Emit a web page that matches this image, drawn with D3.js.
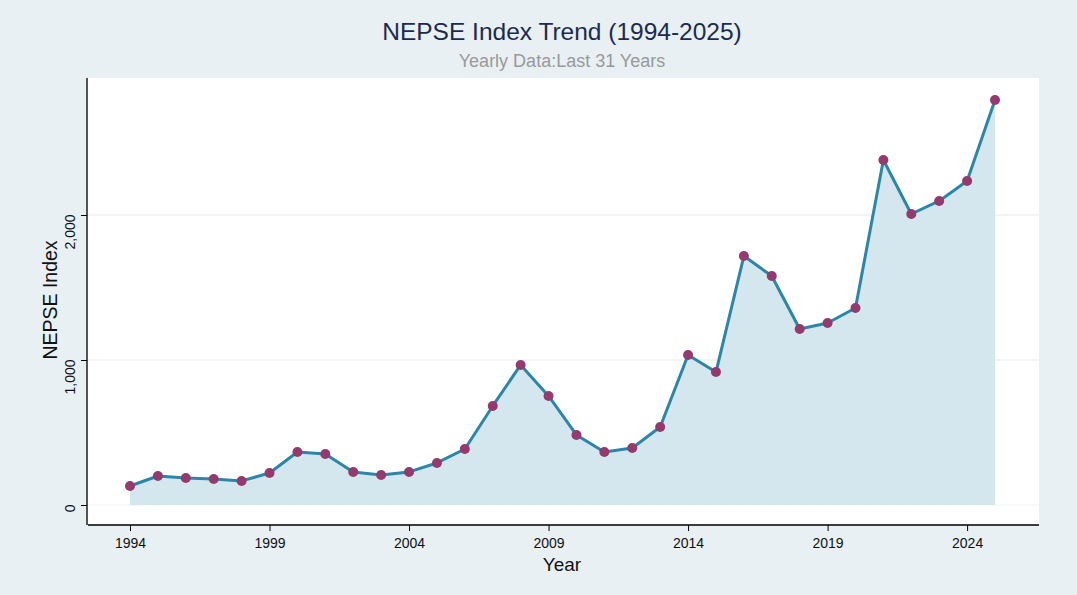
<!DOCTYPE html>
<html><head><meta charset="utf-8">
<script src="https://cdn.jsdelivr.net/npm/d3@7"></script>
<style>body{margin:0;background:#e8f0f4;} svg{display:block;font-family:"Liberation Sans",Arial,sans-serif;}</style>
</head><body>
<svg id="c" width="1077" height="595"></svg>
<script>
const years = [1994,1995,1996,1997,1998,1999,2000,2001,2002,2003,2004,2005,2006,2007,2008,2009,2010,2011,2012,2013,2014,2015,2016,2017,2018,2019,2020,2021,2022,2023,2024,2025];
const nepse = [131,200,186,179,166,221,366,352,228,207,228,290,386,683,966,752,483,366,393,538,1034,917,1717,1579,1214,1255,1359,2379,2007,2097,2234,2793];
const xTicks = [1994,1999,2004,2009,2014,2019,2024];
const yTicks = [0,1000,2000];
const titleText = "NEPSE Index Trend (1994-2025)";
const subtitleText = "Yearly Data:Last 31 Years";

const svg = d3.select("#c");
const W=1077,H=595;
const plot = {l:88, r:1039, t:78, b:524};
svg.append("rect").attr("width",W).attr("height",H).attr("fill","#e8f0f4");
svg.append("rect").attr("x",plot.l).attr("y",plot.t).attr("width",plot.r-plot.l).attr("height",plot.b-plot.t).attr("fill","#ffffff");

const x = d3.scaleLinear().domain([1994,2025]).range([130,995]);
const y = d3.scaleLinear().domain([0,2000]).range([505,215]);
const data = years.map((d,i)=>({year:d,v:nepse[i]}));

// grid
svg.append("g").selectAll("line").data(yTicks).join("line")
  .attr("x1",plot.l).attr("x2",plot.r).attr("y1",d=>y(d)).attr("y2",d=>y(d))
  .attr("stroke",d=>d===0?"#f1f3f4":"#e6e9eb").attr("stroke-width",1);

// area
svg.append("path").datum(data)
  .attr("d",d3.area().x(d=>x(d.year)).y0(y(0)).y1(d=>y(d.v)))
  .attr("fill","#d4e6ee");
// line
svg.append("path").datum(data)
  .attr("d",d3.line().x(d=>x(d.year)).y(d=>y(d.v)))
  .attr("fill","none").attr("stroke","#2c87a6").attr("stroke-width",3).attr("stroke-linejoin","round");
// markers
svg.append("g").selectAll("circle").data(data).join("circle")
  .attr("cx",d=>x(d.year)).attr("cy",d=>y(d.v)).attr("r",5).attr("fill","#943a6e");

// x axis
const xa = svg.append("g").attr("transform",`translate(0,${plot.b+1})`)
  .call(d3.axisBottom(x).tickValues(xTicks).tickFormat(d3.format("d")).tickSize(6).tickPadding(7));
xa.select(".domain").attr("d",`M${plot.l},0H${plot.r}`).attr("stroke","#000").attr("stroke-width",1.3);
xa.selectAll("text").attr("font-size",14).attr("fill","#111").attr("font-family","Liberation Sans, Arial, sans-serif");

// y axis
const ya = svg.append("g").attr("transform",`translate(${plot.l-1},0)`)
  .call(d3.axisLeft(y).tickValues(yTicks).tickFormat(d3.format(",")).tickSize(6).tickPadding(0));
ya.select(".domain").attr("d",`M0,${plot.t}V${plot.b+1}`).attr("stroke","#000").attr("stroke-width",1.3);
ya.selectAll("text").attr("font-size",14).attr("fill","#111").attr("font-family","Liberation Sans, Arial, sans-serif")
  .attr("text-anchor","end").attr("x",0).attr("y",0).attr("dy",0)
  .attr("transform","translate(-12,-1) rotate(-90)");

// titles
svg.append("text").attr("x",562).attr("y",40).attr("text-anchor","middle")
  .attr("font-size",24.5).attr("fill","#1c2b4c").text(titleText);
svg.append("text").attr("x",562).attr("y",67).attr("text-anchor","middle")
  .attr("font-size",18).attr("fill","#999").text(subtitleText);
svg.append("text").attr("x",562).attr("y",571).attr("text-anchor","middle")
  .attr("font-size",19).attr("fill","#111").text("Year");
svg.append("text").attr("transform","translate(57,300) rotate(-90)").attr("text-anchor","middle")
  .attr("font-size",19.5).attr("fill","#111").text("NEPSE Index");
</script>
</body></html>
